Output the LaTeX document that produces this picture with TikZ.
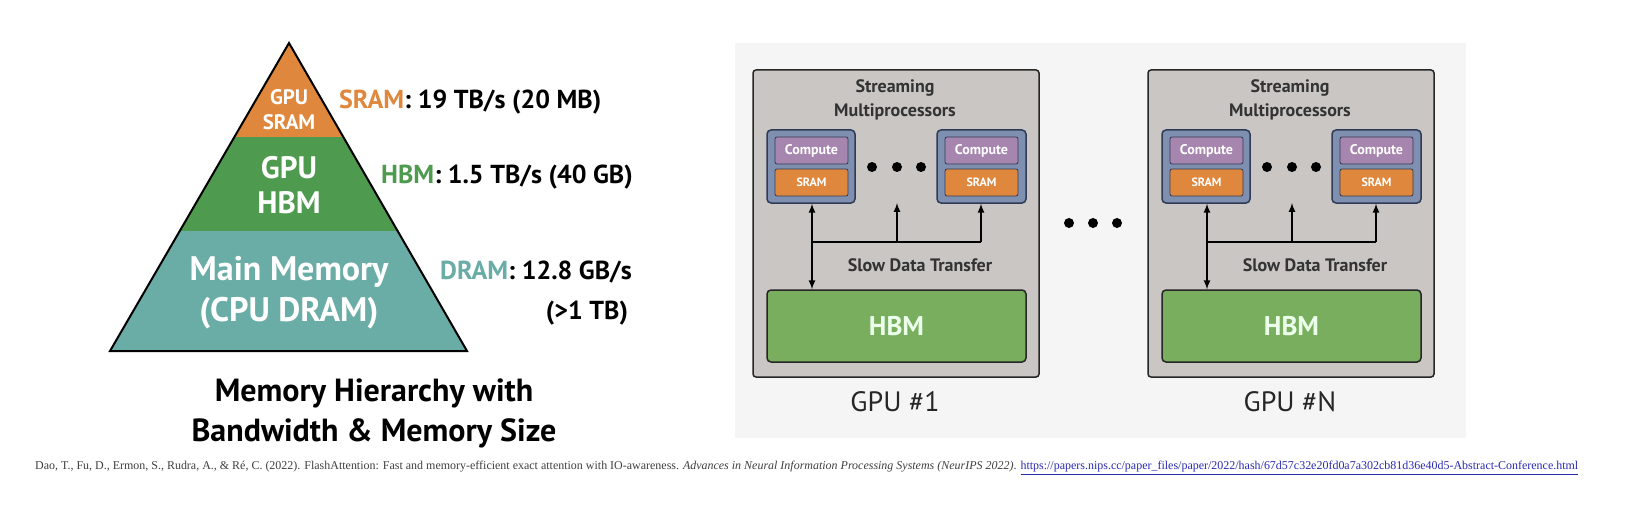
\documentclass[tikz,border=0pt]{standalone}
\usepackage{fontspec}
\setmainfont{PT Sans}
\newfontfamily\citefont{Liberation Serif}
\usepackage{graphicx}
\definecolor{sramc}{HTML}{E0873E}
\definecolor{hbmc}{HTML}{4E9A4E}
\definecolor{dramc}{HTML}{6AADA6}
\definecolor{gpubg}{HTML}{C9C6C3}
\definecolor{smbord}{HTML}{2F3B57}
\definecolor{smfill}{HTML}{7F8FB0}
\definecolor{compc}{HTML}{A685AE}
\definecolor{hbmbox}{HTML}{78AE5E}
\definecolor{linkc}{HTML}{2B2BB0}
\tikzset{
  lbl/.style={font=\bfseries\fontsize{26}{30}\selectfont, anchor=west, inner sep=0},
  gpubox/.style={draw=black!85, line width=1.5pt, fill=gpubg, rounded corners=3pt},
  smbox/.style={draw=smbord, line width=1.5pt, fill=smfill, rounded corners=4pt},
  compbox/.style={draw=smbord, line width=0.8pt, fill=compc, rounded corners=2pt, font=\bfseries\fontsize{14}{16}\selectfont, text=white},
  srambox/.style={draw=smbord, line width=0.8pt, fill=sramc, rounded corners=2pt, font=\bfseries\fontsize{12}{14}\selectfont, text=white},
  hbmbx/.style={draw=black!85, line width=1.5pt, fill=hbmbox, rounded corners=4pt, font=\bfseries\fontsize{27}{30}\selectfont, text=white!92!green},
  gtext/.style={font=\bfseries\fontsize{18}{24}\selectfont, text=black!80, align=center},
  arr/.style={line width=2pt, -latex},
  dot/.style={circle, fill=black, inner sep=0, minimum size=10pt},
}
\begin{document}
\begin{tikzpicture}[x=1pt,y=-1pt]
\useasboundingbox (0,0) rectangle (1633,524);
\fill[white] (0,0) rectangle (1633,524);
% pyramid
\begin{scope}
\clip (289,43) -- (467,351) -- (110,351) -- cycle;
\fill[sramc] (100,40) rectangle (480,137);
\fill[hbmc] (100,137) rectangle (480,231);
\fill[dramc] (100,231) rectangle (480,355);
\end{scope}
\draw[line width=2pt, line join=miter] (289,43) -- (467,351) -- (110,351) -- cycle;
\node[font=\bfseries\fontsize{21}{25}\selectfont, text=white, align=center] (ps) at (289,110) {GPU\\SRAM};
\node[font=\bfseries\fontsize{31}{35}\selectfont, text=white, align=center] (ph) at (289,185) {GPU\\HBM};
\node[font=\bfseries\fontsize{34}{41}\selectfont, text=white, align=center] (pd) at (289,293) {Main Memory\\(CPU DRAM)};
\node[lbl] (ls) at (339,102) {\textcolor{sramc}{SRAM}: 19 TB/s (20 MB)};
\node[lbl] (lh) at (381,177) {\textcolor{hbmc}{HBM}: 1.5 TB/s (40 GB)};
\node[lbl] (ld) at (440,272) {\textcolor{dramc}{DRAM}: 12.8 GB/s};
\node[lbl, anchor=center] (ld2) at (587,313) {(>1 TB)};
\node[font=\bfseries\fontsize{32}{40}\selectfont, align=center] (cap) at (374,413) {Memory Hierarchy with\\Bandwidth \& Memory Size};
% gpu area background
\fill[black!4] (735,43) rectangle (1466,438);
\foreach \dx/\nm/\lab in {0/a/GPU \#1, 395/b/GPU \#N}{
  \begin{scope}[xshift=\dx]
  \node[gpubox, minimum width=286pt, minimum height=307pt] (g\nm) at (896,223.5) {};
  \node[gtext] (st\nm) at (895,100) {Streaming\\Multiprocessors};
  \node[smbox, minimum width=88pt, minimum height=73pt] (s1\nm) at (811,166.5) {};
  \node[compbox, minimum width=73pt, minimum height=27pt] (c1\nm) at (811.5,150.5) {Compute};
  \node[srambox, minimum width=73pt, minimum height=27pt] (r1\nm) at (811.5,182.5) {SRAM};
  \node[smbox, minimum width=89pt, minimum height=73pt] (s2\nm) at (981.5,166.5) {};
  \node[compbox, minimum width=73pt, minimum height=27pt] (c2\nm) at (981.5,150.5) {Compute};
  \node[srambox, minimum width=73pt, minimum height=27pt] (r2\nm) at (981.5,182.5) {SRAM};
  \node[dot] (d1\nm) at (872,167) {};
  \node[dot] (d2\nm) at (897,167) {};
  \node[dot] (d3\nm) at (921,167) {};
  \node[hbmbx, minimum width=259pt, minimum height=72pt] (h\nm) at (896.5,326) {HBM};
  \node[gtext] (sd\nm) at (920,265) {Slow Data Transfer};
  \coordinate (j1\nm) at (812,242);
  \coordinate (j2\nm) at (897,242);
  \coordinate (j3\nm) at (981,242);
  \draw[line width=2pt, latex-latex] (s1\nm.south) ++(1,0) -- (h\nm.north -| 812,0);
  \draw[line width=2pt] (j1\nm) -- (j3\nm);
  \draw[arr] (j2\nm) -- (897,203);
  \draw[arr] (j3\nm) -- (s2\nm.south -| j3\nm);
  \node[font=\fontsize{28}{32}\selectfont, text=black!85] (lab\nm) at (895,402) {\lab};
  \end{scope}
}
\node[dot] (m1) at (1069,223) {};
\node[dot] (m2) at (1093,223) {};
\node[dot] (m3) at (1117,223) {};
% citation
\node[anchor=west, inner sep=0, text=black!75] (cite) at (35,468) {\resizebox{1543pt}{!}{\citefont Dao, T., Fu, D., Ermon, S., Rudra, A., \& Ré, C. (2022). FlashAttention: Fast and memory-efficient exact attention with IO-awareness. \textit{Advances in Neural Information Processing Systems (NeurIPS 2022)}. \textcolor{linkc}{\underline{https://papers.nips.cc/paper\_files/paper/2022/hash/67d57c32e20fd0a7a302cb81d36e40d5-Abstract-Conference.html}}}};
\end{tikzpicture}
\end{document}
